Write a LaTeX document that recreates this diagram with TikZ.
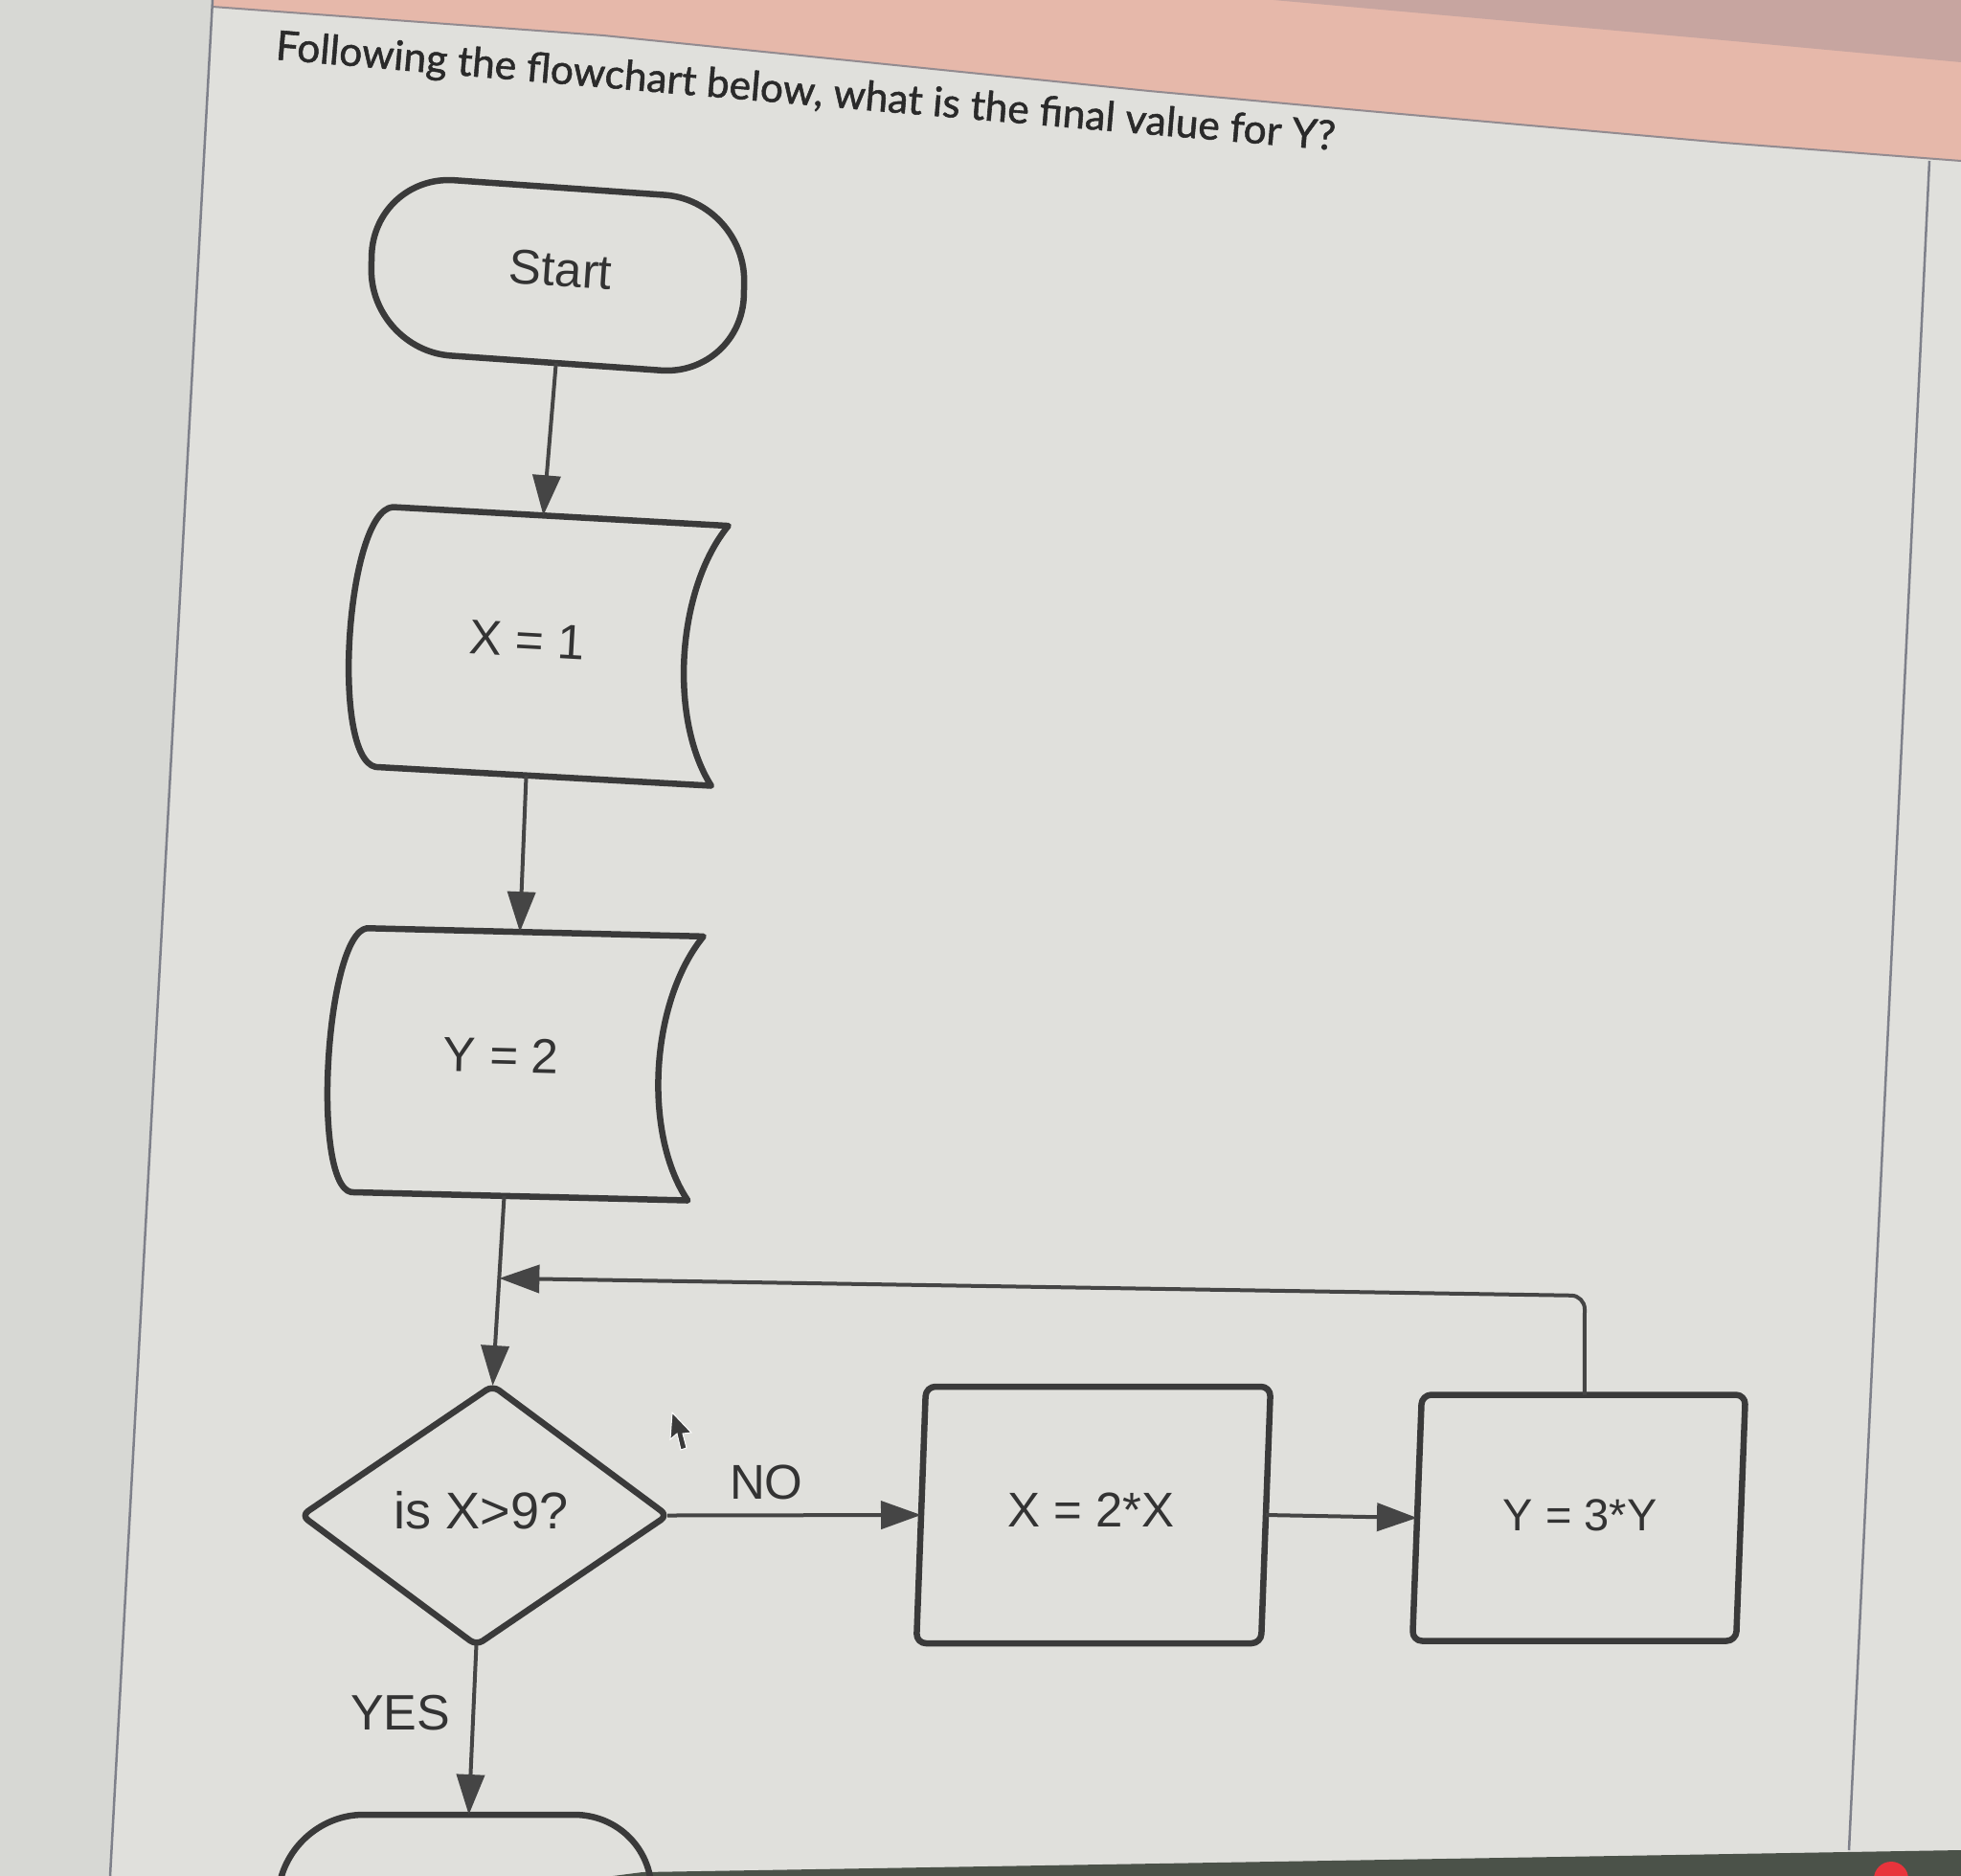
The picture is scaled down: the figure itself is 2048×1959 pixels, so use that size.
\documentclass[tikz,border=0pt]{standalone}
\usepackage{fontspec}
\setmainfont{Liberation Sans}
\newfontfamily\titlefont{Lato}[FakeBold=1.3]
\usetikzlibrary{arrows.meta,calc}
\definecolor{pagebg}{HTML}{E0E0DC}
\definecolor{leftbg}{HTML}{D7D8D4}
\definecolor{pinkband}{HTML}{E6B8AA}
\definecolor{mauve}{HTML}{C7A5A0}
\definecolor{edgecol}{HTML}{7E808A}
\definecolor{bezel}{HTML}{4B5249}
\definecolor{reddot}{HTML}{E8343C}
\definecolor{shapecol}{HTML}{3A3A3A}
\definecolor{conncol}{HTML}{454545}
\definecolor{txtcol}{HTML}{333333}
\definecolor{titlecol}{HTML}{2A2A2A}
\begin{document}
\begin{tikzpicture}[x=1pt,y=-1pt,
  shapeline/.style={draw=shapecol, line width=6.5pt, line join=round},
  conn/.style={draw=conncol, line width=4pt, -{Triangle[length=42pt,width=29pt]}},
  lbl/.style={text=txtcol, font=\fontsize{51}{60}\selectfont, inner sep=0pt},
]
\clip (0,0) rectangle (2048,1959);
\useasboundingbox (0,0) rectangle (2048,1959);
% background
\fill[leftbg] (0,0) rectangle (2048,1959);
\fill[pagebg] (222,0) -- (2048,0) -- (2048,1959) -- (115,1959) -- cycle;
\fill[pinkband] (222,0) -- (2048,0) -- (2048,168) -- (1800,149) -- (1440,117) -- (1200,95) -- (630,37) -- (303,13) -- (222,7) -- cycle;
\fill[mauve] (1330,0) -- (2048,0) -- (2048,65) -- (1800,42) -- cycle;
\draw[draw=edgecol!80!pinkband, line width=2pt] (222,7) -- (303,13) -- (630,37) -- (1200,95) -- (1440,117) -- (1800,149) -- (2048,168);
\draw[edgecol, line width=2.5pt] (222,0) -- (115,1959);
\draw[edgecol, line width=2.5pt] (2015,168) -- (1931,1932);
\fill[bezel] (640,1959) -- (671,1955) -- (2048,1932) -- (2048,1959) -- cycle;
\fill[reddot] (1975,1962) circle (18);

% title
\node[anchor=base west, rotate=-4.9, inner sep=0pt, text=titlecol,
      font=\titlefont\fontsize{42.5}{50}\selectfont] (title) at (287,62)
      {Following the flowchart below, what is the final value for Y?};

% Start
\begin{scope}[shift={(582.5,287.5)}, rotate=-4, xslant=-0.05]
  \draw[shapeline, rounded corners=85pt] (-195,-91.5) rectangle (195,91.5);
  \node[lbl, rotate=-4] (start) at (3,-6) {Start};
  \coordinate (startS) at (0,91.5);
\end{scope}

% X = 1 (stored data)
\begin{scope}[shift={(558.5,674)}, rotate=-3.2, xslant=0.01]
  \draw[shapeline] (-157.5,-136) -- (193.5,-136)
     .. controls (144.2,-68) and (144.2,68) .. (193.5,136)
     -- (-157.5,136)
     .. controls (-205.5,129) and (-205.5,-129) .. cycle;
  \node[lbl, rotate=-3.2] (x1) at (-8.5,-5) {X = 1};
  \coordinate (x1n) at (0,-136);
  \coordinate (x1s) at (0,136);
\end{scope}

% Y = 2 (stored data)
\begin{scope}[shift={(534.75,1111)}, rotate=-1.4, xslant=0.035]
  \draw[shapeline] (-159.75,-138) -- (191.75,-138)
     .. controls (140.45,-69) and (140.45,69) .. (191.75,138)
     -- (-159.75,138)
     .. controls (-202.45,131) and (-202.45,-131) .. cycle;
  \node[lbl, rotate=-1.4] (y2) at (-11.75,-9) {Y = 2};
  \coordinate (y2n) at (0,-138);
  \coordinate (y2s) at (0,138);
\end{scope}

% decision
\begin{scope}[shift={(506,1582.5)}, xslant=0.063]
  \draw[shapeline, rounded corners=8pt] (0,-135.5) -- (191,0) -- (0,135.5) -- (-191,0) -- cycle;
  \node[lbl, font=\fontsize{54}{60}\selectfont] (dec) at (-4,-5.5) {is X>9?};
  \coordinate (dn) at (0,-135.5);
  \coordinate (ds) at (0,135.5);
  \coordinate (de) at (191,0);
\end{scope}

% X = 2*X
\begin{scope}[shift={(1142,1582)}, xslant=0.037]
  \draw[shapeline, rounded corners=10pt] (-180,-134) rectangle (180,134);
  \node[lbl] (x2) at (-3,-5) {X = 2*X};
  \coordinate (x2w) at (-180,0);
  \coordinate (x2e) at (180,0);
\end{scope}

% Y = 3*Y
\begin{scope}[shift={(1650,1585)}, xslant=0.038]
  \draw[shapeline, rounded corners=10pt] (-170,-128.5) rectangle (168,128.5);
  \node[lbl, font=\fontsize{47}{56}\selectfont] (y3) at (0,-3) {Y = 3*Y};
  \coordinate (y3w) at (-170,0);
  \coordinate (y3n) at (0,-128.5);
\end{scope}

% end terminator (cut off)
\begin{scope}[shift={(485,1987)}, xslant=0.05]
  \draw[shapeline, rounded corners=85pt] (-195,-92) rectangle (195,92);
  \coordinate (endn) at (0,-92);
\end{scope}

% connectors
\draw[conn] (startS) -- (x1n);
\draw[conn] (x1s) -- (y2n);
\draw[conn] (y2s) -- (dn);
\coordinate (junc) at ($(y2s)!0.434!(dn)$);
\coordinate (loopc) at (1655,1353);
\draw[conn, rounded corners=14pt] (y3n) -- (loopc) -- (junc);
\draw[conn] (de) -- node[lbl, pos=0.39, above=14pt] (no) {NO} (x2w);
\draw[conn] (x2e) -- (y3w);
\draw[conn] (ds) -- node[lbl, pos=0.4, left=22pt, font=\fontsize{52}{60}\selectfont] (yes) {YES} (endn);

% mouse pointer
\fill[shapecol, draw=white, line width=1pt] (702,1475) -- (700,1503) -- (707,1497) -- (711,1514) -- (717,1512) -- (713,1497) -- (722,1496) -- cycle;
\end{tikzpicture}
\end{document}
